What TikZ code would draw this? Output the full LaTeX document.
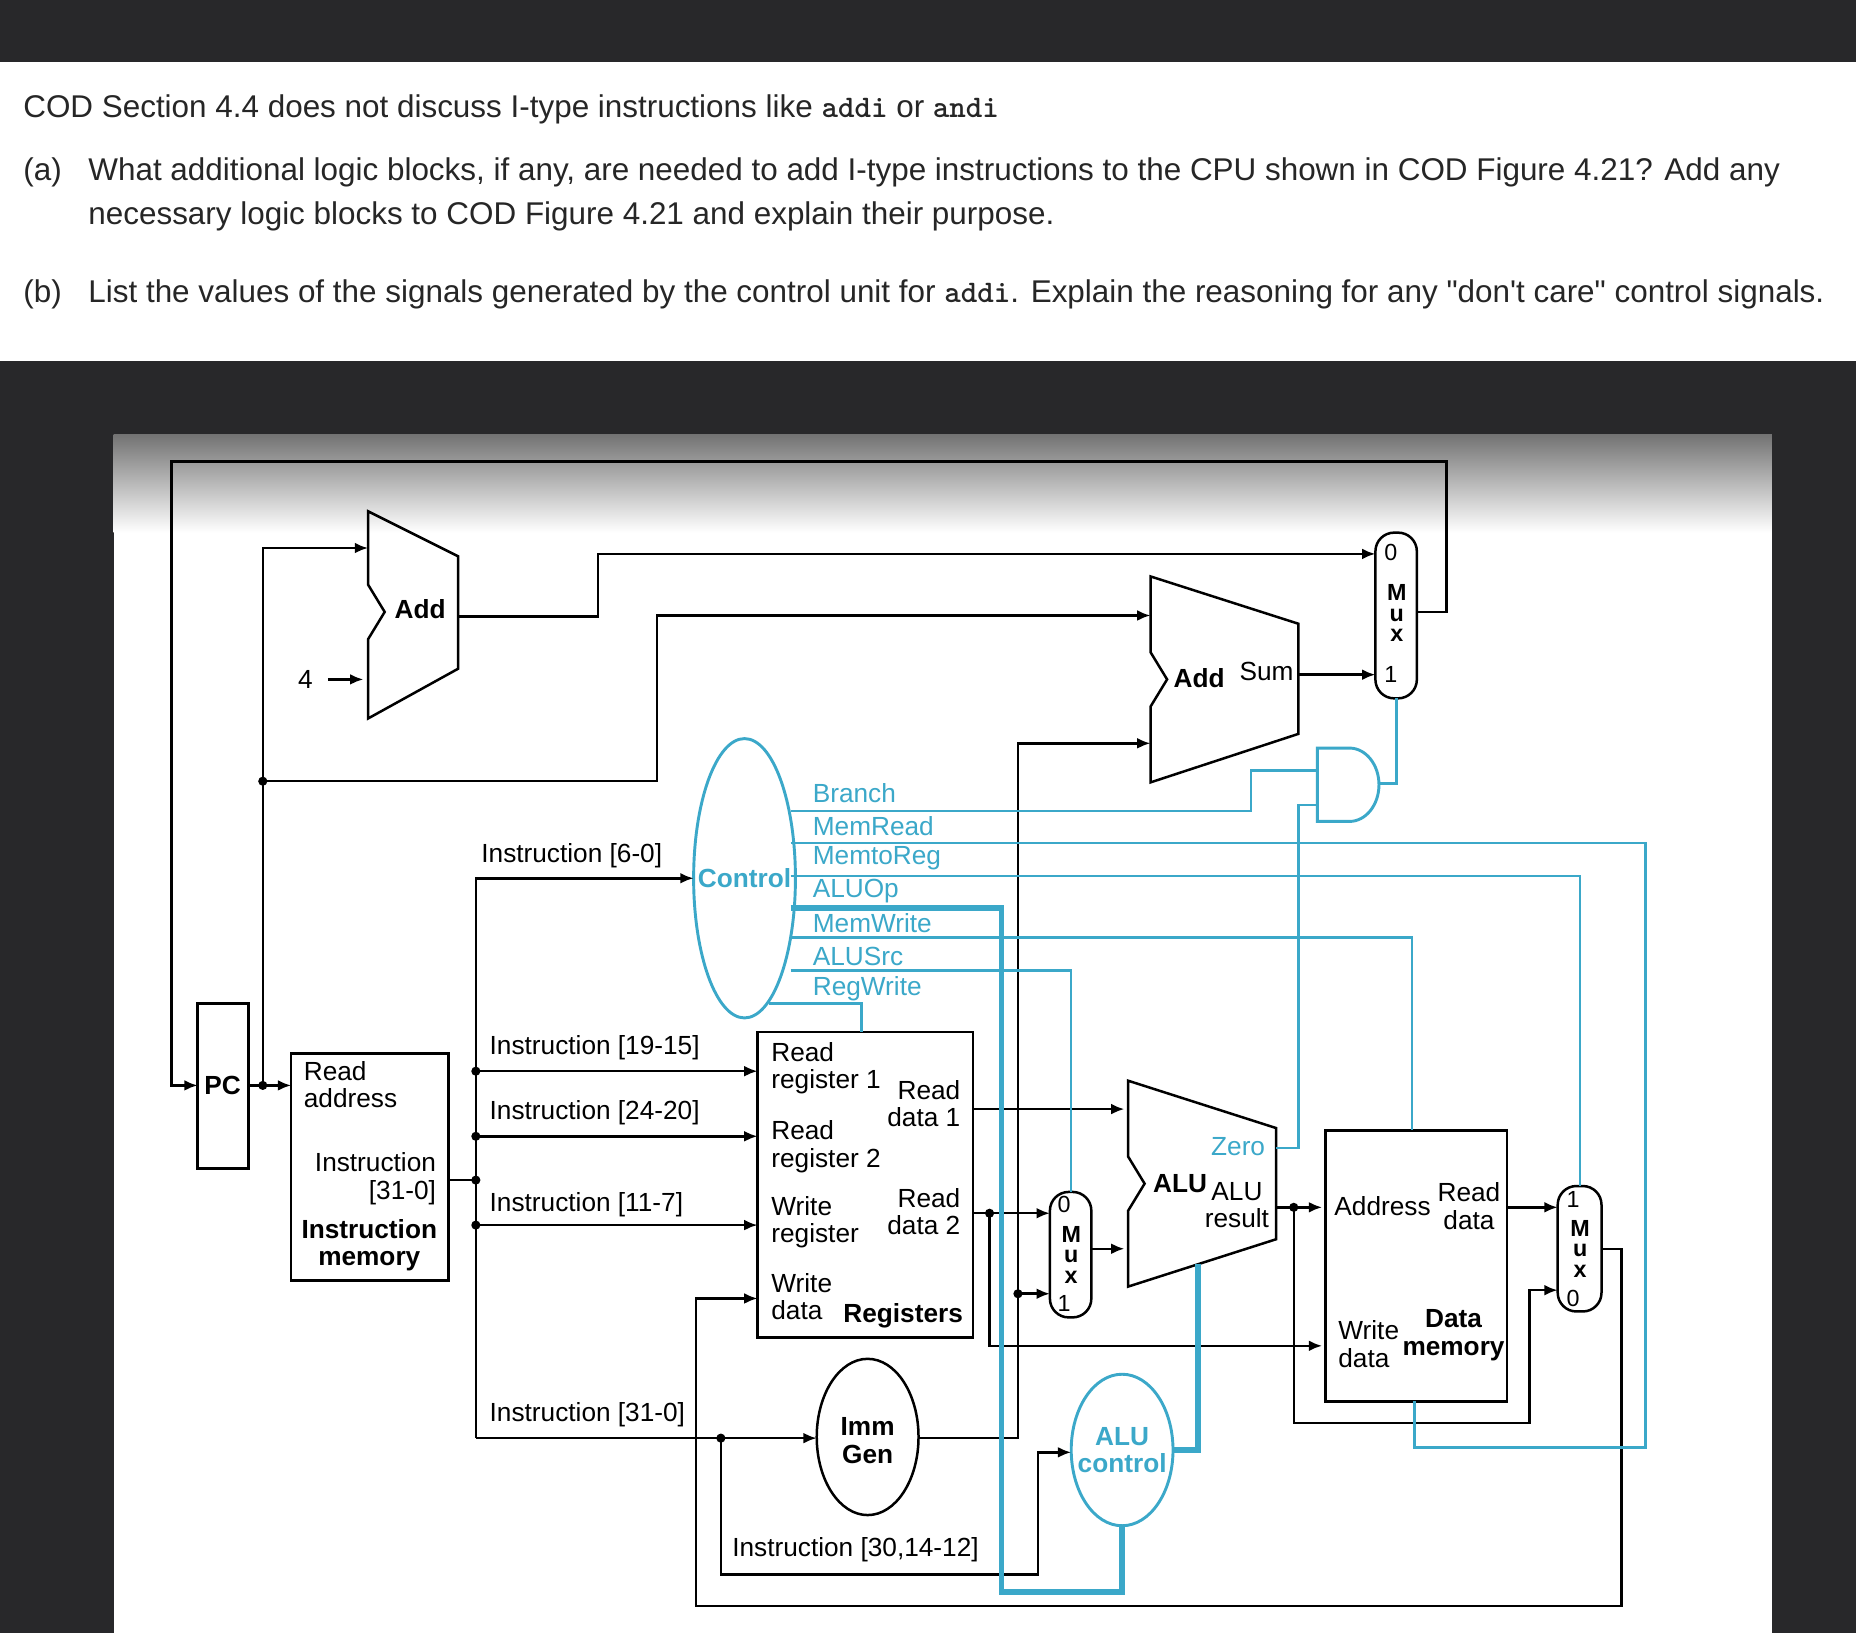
\documentclass[tikz,border=0pt]{standalone}
\usepackage{fontspec}
\setmainfont{Liberation Sans}
\newfontfamily\hdr{Liberation Sans}
\usetikzlibrary{arrows.meta,shapes.geometric}
\definecolor{cy}{RGB}{59,168,201}
\definecolor{dk}{RGB}{40,40,42}
\begin{document}
\begin{tikzpicture}[x=0.01cm,y=-0.01cm,
 w/.style={line width=0.6pt,black},
 a/.style={w,-{Latex[length=3.2pt,width=2.6pt]}},
 c/.style={line width=0.6pt,cy},
 ct/.style={line width=1.3pt,cy},
 t/.style={font=\fontsize{6.3}{6.6}\selectfont,inner sep=0pt,align=left},
 tb/.style={t,font=\fontsize{6.3}{6.6}\selectfont\bfseries},
 tm/.style={t,align=center,font=\fontsize{5.6}{4.9}\selectfont\bfseries},
 tn/.style={t,font=\fontsize{5.6}{5.6}\selectfont},
 tc/.style={t,text=cy},
 h/.style={font=\hdr\fontsize{7.55}{9.5}\selectfont,inner sep=0pt,anchor=west,text=black!85},
 mx/.style={w,rounded corners=4.5pt},
 dot/.style={circle,fill=black,inner sep=0pt,minimum size=2.2pt}]
\useasboundingbox (0,0) rectangle (1568,1380);
\fill[dk] (0,0) rectangle (1568,52);
\fill[white] (0,52) rectangle (1568,305);
\fill[dk] (0,305) rectangle (1568,1380);
\fill[white] (96,367) rectangle (1497,1380);
\shade[top color=black!55,bottom color=white] (96,367) rectangle (1497,450);
% header
\node[h] (h1) at (19,92) {COD Section 4.4 does not discuss I-type instructions like \texttt{\bfseries addi} or \texttt{\bfseries andi}};
\node[h] (h2) at (19,146) {(a)};
\node[h] (h3) at (74,146) {What additional logic blocks, if any, are needed to add I-type instructions to the CPU shown in COD Figure 4.21? Add any};
\node[h] (h4) at (74,183) {necessary logic blocks to COD Figure 4.21 and explain their purpose.};
\node[h] (h5) at (19,249) {(b)};
\node[h] (h6) at (74,249) {List the values of the signals generated by the control unit for \texttt{\bfseries addi}. Explain the reasoning for any "don't care" control signals.};
% blocks
\draw[w] (167,848) rectangle (210,987); \node[tb] (pc) at (188,917) {PC};
\draw[w] (246,890) rectangle (379,1082);
\node[t,anchor=north west] (ra) at (256,896) {Read\\address};
\node[t,align=right,anchor=north east] (io) at (369,973) {Instruction\\{[31-0]}};
\node[tb,align=center] (im) at (312,1052) {Instruction\\memory};
\draw[w] (311,432) -- (387,470) -- (387,565) -- (311,607) -- (311,540) -- (325,517) -- (311,494) -- cycle;
\node[tb] (add1) at (355,515) {Add};
\node[t] (four) at (258,574) {4};
\draw[w] (972,487) -- (1097,527) -- (1097,620) -- (972,661) -- (972,597) -- (986,574) -- (972,551) -- cycle;
\node[tb] (add2) at (1013,573) {Add}; \node[t] (sum) at (1070,567) {Sum};
\draw[mx] (1162,450) rectangle (1197,590);
\node[tn] at (1175,467) {0}; \node[tm] at (1180,518) {M\\u\\x}; \node[tn] at (1175,570) {1};
\draw[cy,line width=0.7pt] (629,742) ellipse [x radius=43,y radius=118];
\node[tb,text=cy] (ctl) at (629,742) {Control};
\draw[w] (640,872) rectangle (822,1130);
\node[t,anchor=north west] at (651,880) {Read\\register 1};
\node[t,anchor=north west] at (651,946) {Read\\register 2};
\node[t,anchor=north west] at (651,1010) {Write\\register};
\node[t,anchor=north west] at (651,1075) {Write\\data};
\node[t,anchor=north east,align=right] at (812,912) {Read\\data 1};
\node[t,anchor=north east,align=right] at (812,1003) {Read\\data 2};
\node[tb] at (763,1112) {Registers};
\draw[w] (953,913) -- (1078,953) -- (1078,1047) -- (953,1087) -- (953,1023) -- (967,1000) -- (953,977) -- cycle;
\node[tb] at (997,1000) {ALU};
\node[t,align=center] at (1045,1018) {ALU\\result};
\node[tc] at (1046,969) {Zero};
\draw[mx] (887,1007) rectangle (922,1113);
\node[tn] at (899,1018) {0}; \node[tm] at (905,1060) {M\\u\\x}; \node[tn] at (899,1101) {1};
\draw[w] (1120,955) rectangle (1273,1184);
\node[t] at (1168,1019) {Address};
\node[t,align=center] at (1241,1019) {Read\\data};
\node[t,anchor=north west] at (1130,1115) {Write\\data};
\node[tb,align=center] at (1228,1128) {Data\\memory};
\draw[mx] (1316,1002) rectangle (1353,1108);
\node[tn] at (1329,1013) {1}; \node[tm] at (1335,1055) {M\\u\\x}; \node[tn] at (1329,1097) {0};
\draw[w] (733,1214) ellipse [x radius=43,y radius=66];
\node[tb,align=center] (imm) at (733,1217) {Imm\\Gen};
\draw[cy,line width=0.7pt] (948,1225) ellipse [x radius=43,y radius=64];
\node[tb,align=center,text=cy] (aluc) at (948,1225) {ALU\\control};
\draw[cy,line width=0.7pt] (1113,632) -- (1140,632) arc[start angle=-90,end angle=90,x radius=25,y radius=31] -- (1113,694) -- cycle;
% instruction labels
\node[t,anchor=west] at (406,723) {Instruction [6-0]};
\node[t,anchor=west] at (413,885) {Instruction [19-15]};
\node[t,anchor=west] at (413,940) {Instruction [24-20]};
\node[t,anchor=west] at (413,1018) {Instruction [11-7]};
\node[t,anchor=west] at (413,1195) {Instruction [31-0]};
\node[t,anchor=west] at (618,1309) {Instruction [30,14-12]};
% control labels
\foreach \y/\s in {670/Branch,698/MemRead,725/MemtoReg,753/ALUOp,780/MemWrite,808/ALUSrc,835/RegWrite}
  \node[tc,anchor=west] at (686,\y) {\s};
% black wires
\draw[a] (1197,517) -- (1222,517) -- (1222,390) -- (145,390) -- (145,917) -- (167,917);
\draw[a] (210,917) -- (246,917);
\node[dot] at (222,917) {}; \node[dot] at (222,660) {};
\draw[a] (222,917) -- (222,463) -- (311,463);
\draw[a] (222,660) -- (555,660) -- (555,520) -- (972,520);
\draw[a] (277,574) -- (307,574);
\draw[a] (387,521) -- (505,521) -- (505,468) -- (1162,468);
\draw[a] (1097,570) -- (1162,570);
\draw[w] (379,997) -- (402,997); \node[dot] at (402,997) {};
\draw[a] (402,1215) -- (402,742) -- (586,742);
\draw[a] (402,905) -- (640,905); \node[dot] at (402,905) {};
\draw[a] (402,960) -- (640,960); \node[dot] at (402,960) {};
\draw[a] (402,1035) -- (640,1035); \node[dot] at (402,1035) {};
\draw[a] (402,1215) -- (690,1215); \node[dot] at (609,1215) {};
\draw[a] (609,1215) -- (609,1330) -- (877,1330) -- (877,1227) -- (905,1227);
\draw[a] (776,1215) -- (860,1215) -- (860,628) -- (972,628);
\draw[a] (860,1093) -- (887,1093); \node[dot] at (860,1093) {};
\draw[a] (822,937) -- (950,937);
\draw[a] (822,1025) -- (887,1025); \node[dot] at (836,1025) {};
\draw[a] (836,1025) -- (836,1137) -- (1117,1137);
\draw[a] (922,1055) -- (950,1055);
\draw[a] (1078,1020) -- (1117,1020); \node[dot] at (1093,1020) {};
\draw[a] (1093,1020) -- (1093,1202) -- (1292,1202) -- (1292,1090) -- (1316,1090);
\draw[a] (1273,1020) -- (1316,1020);
\draw[a] (1353,1055) -- (1370,1055) -- (1370,1357) -- (588,1357) -- (588,1097) -- (640,1097);
% cyan wires
\draw[c] (668,685) -- (1057,685) -- (1057,651) -- (1113,651);
\draw[c] (1078,970) -- (1097,970) -- (1097,680) -- (1113,680);
\draw[c] (1165,662) -- (1180,662) -- (1180,590);
\draw[c] (668,712) -- (1390,712) -- (1390,1223) -- (1195,1223) -- (1195,1184);
\draw[c] (668,740) -- (1335,740) -- (1335,1002);
\draw[ct] (668,767) -- (846,767) -- (846,1345) -- (948,1345) -- (948,1289);
\draw[c] (668,792) -- (1193,792) -- (1193,955);
\draw[c] (668,820) -- (905,820) -- (905,1007);
\draw[c] (650,848) -- (728,848) -- (728,872);
\draw[ct] (991,1225) -- (1012,1225) -- (1012,1068);
\end{tikzpicture}
\end{document}
